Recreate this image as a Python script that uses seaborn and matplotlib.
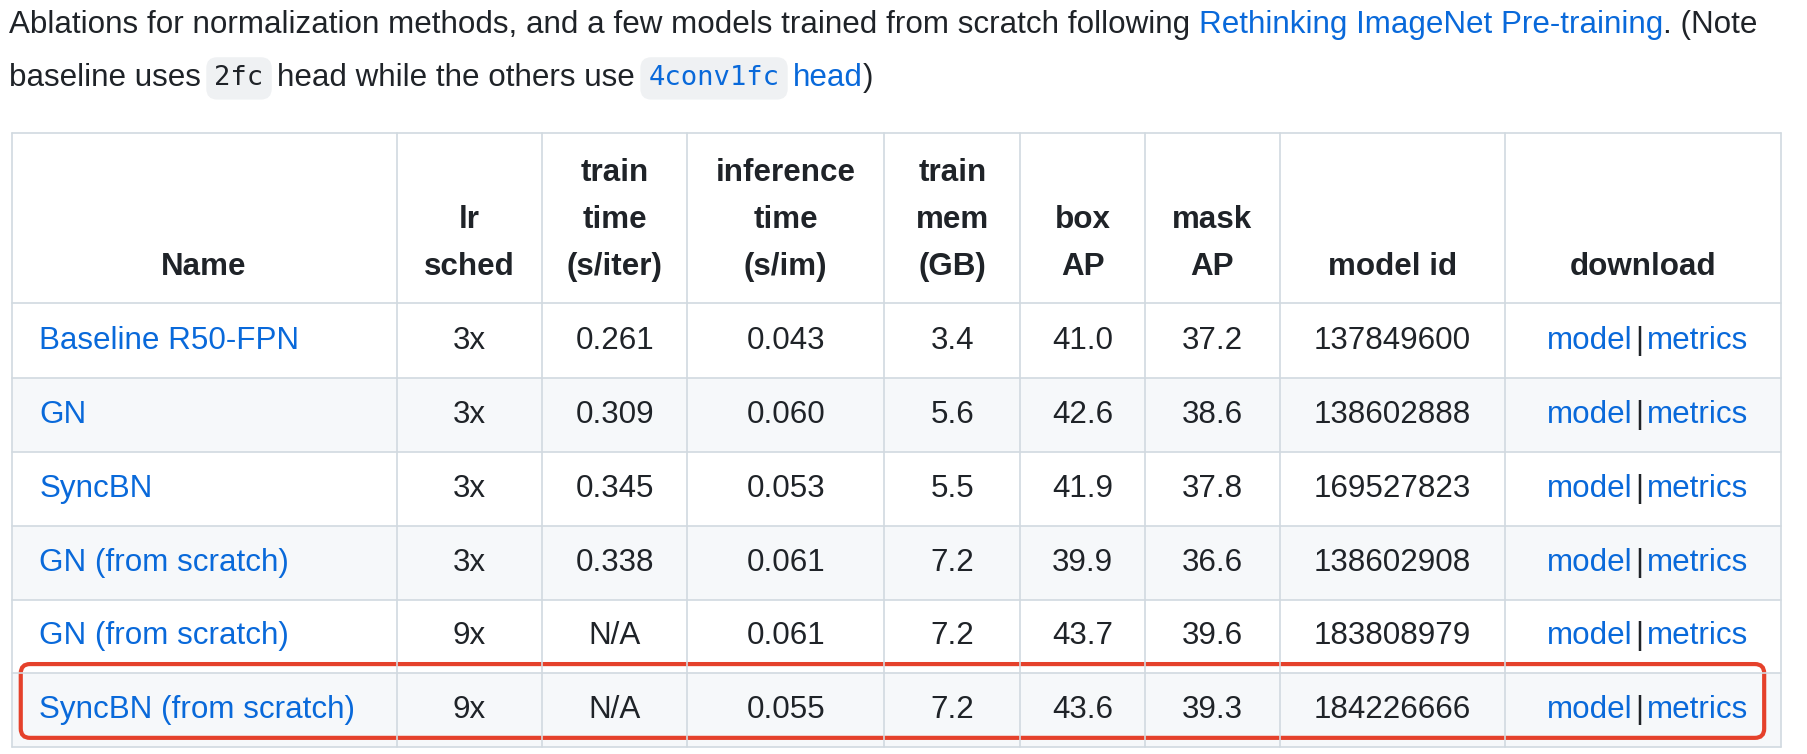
import matplotlib
matplotlib.use("Agg")
import matplotlib.pyplot as plt
import seaborn as sns
from matplotlib.patches import Rectangle, FancyBboxPatch

sns.set_style("white")

names = ["Baseline R50-FPN", "GN", "SyncBN", "GN (from scratch)", "GN (from scratch)", "SyncBN (from scratch)"]
lr_sched = ["3x", "3x", "3x", "3x", "9x", "9x"]
train_time = ["0.261", "0.309", "0.345", "0.338", "N/A", "N/A"]
inference_time = ["0.043", "0.060", "0.053", "0.061", "0.061", "0.055"]
train_mem = ["3.4", "5.6", "5.5", "7.2", "7.2", "7.2"]
box_ap = ["41.0", "42.6", "41.9", "39.9", "43.7", "43.6"]
mask_ap = ["37.2", "38.6", "37.8", "36.6", "39.6", "39.3"]
model_ids = ["137849600", "138602888", "169527823", "138602908", "183808979", "184226666"]
headers = [["Name"], ["lr", "sched"], ["train", "time", "(s/iter)"], ["inference", "time", "(s/im)"],
           ["train", "mem", "(GB)"], ["box", "AP"], ["mask", "AP"], ["model id"], ["download"]]

W, H = 1568, 654
fig = plt.figure(figsize=(18.08, 7.54), dpi=100)
ax = fig.add_axes([0, 0, 1, 1])
ax.set_xlim(0, W); ax.set_ylim(H, 0); ax.axis("off")

FONT = "Liberation Sans"
FS = 22.6
TXT = "#1f2328"; LINK = "#0969da"; BORDER = "#d1d9e0"
renderer = fig.canvas.get_renderer()
sx = W / fig.bbox.width


def chain(x, y, parts):
    for s, color, mono, gap in parts:
        kw = dict(fontsize=FS - 3 if mono else FS, family="DejaVu Sans Mono" if mono else FONT,
                  color=color, va="center")
        if mono:
            kw["bbox"] = dict(boxstyle="round,pad=0.3,rounding_size=0.4", fc="#eff1f3", ec="none")
        t = ax.text(x, y, s, **kw)
        bb = t.get_window_extent(renderer)
        x += bb.width * sx + gap


chain(8, 22, [("Ablations for normalization methods, and a few models trained from scratch following ", TXT, False, 0),
              ("Rethinking ImageNet Pre-training", LINK, False, 0), (". (Note", TXT, False, 0)])
chain(8, 68, [("baseline uses ", TXT, False, 4), ("2fc", TXT, True, 12), ("head while the others use ", TXT, False, 4),
              ("4conv1fc", LINK, True, 12), ("head", LINK, False, 0), (")", TXT, False, 0)])

cols = [10, 344, 470, 596, 767, 885, 993, 1110, 1305, 1545]
rows = [115, 263, 328, 392, 456, 520, 584, 648]

for i in range(len(names)):
    if i % 2 == 1:
        ax.add_patch(Rectangle((cols[0], rows[i + 1]), cols[-1] - cols[0], rows[i + 2] - rows[i + 1],
                               fc="#f6f8fa", ec="none"))
for x in cols:
    ax.plot([x, x], [rows[0], rows[-1]], color=BORDER, lw=1.2)
for y in rows:
    ax.plot([cols[0], cols[-1]], [y, y], color=BORDER, lw=1.2)

for j, h in enumerate(headers):
    cx = (cols[j] + cols[j + 1]) / 2
    n = len(h)
    for k, line in enumerate(h):
        y = 232 - (n - 1 - k) * 41
        ax.text(cx, y, line, fontsize=FS, family=FONT, weight="bold", color=TXT, ha="center", va="center")

for i in range(len(names)):
    cy = (rows[i + 1] + rows[i + 2]) / 2
    ax.text(cols[0] + 24, cy, names[i], fontsize=FS, family=FONT, color=LINK, va="center")
    vals = [lr_sched[i], train_time[i], inference_time[i], train_mem[i], box_ap[i], mask_ap[i], model_ids[i]]
    for j, v in enumerate(vals):
        cx = (cols[j + 1] + cols[j + 2]) / 2
        ax.text(cx, cy, v, fontsize=FS, family=FONT, color=TXT, ha="center", va="center")
    ax.text(1416, cy, "model", fontsize=FS, family=FONT, color=LINK, ha="right", va="center")
    ax.text(1422, cy, "|", fontsize=FS, family=FONT, color=TXT, ha="center", va="center")
    ax.text(1428, cy, "metrics", fontsize=FS, family=FONT, color=LINK, ha="left", va="center")

ax.add_patch(FancyBboxPatch((18, 576), 1512, 64, boxstyle="round,pad=0,rounding_size=8",
                            fc="none", ec="#e5412b", lw=3))

fig.savefig("out.png", dpi=100)
